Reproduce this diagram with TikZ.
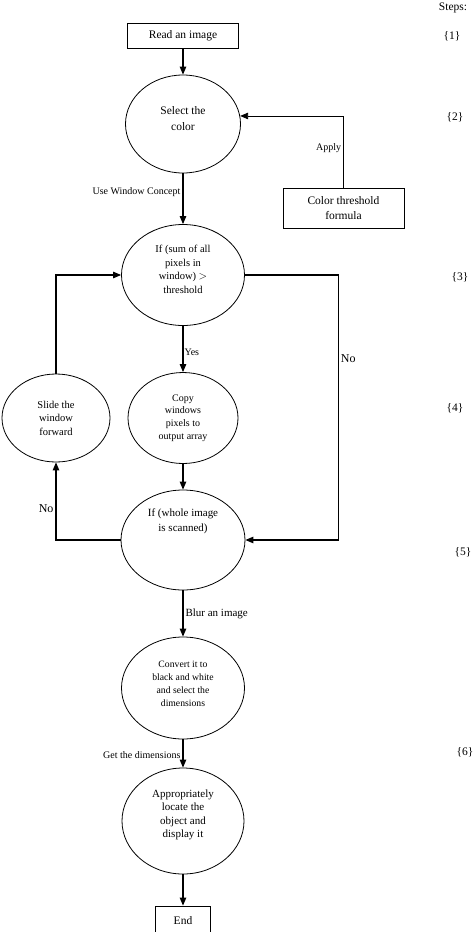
\documentclass[tikz,border=0pt]{standalone}
\usepackage{fontspec}
\setmainfont{Liberation Serif}
\usetikzlibrary{shapes.geometric,arrows.meta}

\begin{document}
\begin{tikzpicture}[x=1pt,y=-1pt]
\tikzstyle{oval}=[ellipse,draw,line width=0.8pt,inner sep=0pt,align=center,font=\fontsize{10.5}{13.5}\selectfont]
\tikzstyle{box}=[rectangle,draw,line width=0.8pt,inner sep=0pt,align=center,font=\fontsize{11.5}{15}\selectfont]
\tikzstyle{arr}=[-{Triangle[length=8pt,width=6.5pt]},line width=1.1pt]
\tikzstyle{lbl}=[font=\fontsize{10}{12}\selectfont,inner sep=2pt]
\tikzstyle{steplbl}=[font=\fontsize{11.5}{14}\selectfont,inner sep=0pt]
\path[fill=white] (0,0) rectangle (474,932);
\useasboundingbox (0,0) rectangle (474,932);

% boxes and ovals
\node[box,minimum width=111pt,minimum height=25pt] (read) at (183,35.5) {Read an image};
\node[oval,minimum width=115pt,minimum height=98pt,font=\fontsize{11.5}{16}\selectfont,text depth=10pt] (sel) at (183,124) {Select the\\color};
\node[box,minimum width=121pt,minimum height=40pt] (thr) at (343.5,208) {Color threshold\\formula};
\node[oval,minimum width=123pt,minimum height=101pt,text depth=11pt] (sum) at (183,275) {If (sum of all\\pixels in\\window) $>$\\threshold};
\node[oval,minimum width=108pt,minimum height=88pt] (slide) at (56,418) {Slide the\\window\\forward};
\node[oval,minimum width=110pt,minimum height=91pt,font=\fontsize{10}{12.8}\selectfont] (copy) at (183,418) {Copy\\windows\\pixels to\\output array};
\node[oval,minimum width=124pt,minimum height=100pt,font=\fontsize{11}{15}\selectfont,text depth=39pt] (whole) at (183,540) {If (whole image\\is scanned)};
\node[oval,minimum width=123pt,minimum height=102pt,font=\fontsize{9.7}{13}\selectfont,text depth=8pt] (conv) at (183,688) {Convert it to\\black and white\\and select the\\dimensions};
\node[oval,minimum width=122pt,minimum height=106pt,font=\fontsize{11}{13.5}\selectfont,text depth=15pt] (loc) at (183,821) {Appropriately\\locate the\\object and\\display it};
\node[box,minimum width=55pt,minimum height=30pt] (end) at (183,921) {End};

% steps column
\node[steplbl] (steps) at (453,8) {Steps:};
\foreach \name/\point in {
	1/{452,36},
	2/{455,117},
	3/{460,277},
	4/{455,408},
	5/{463,552},
	6/{465,752}}
	\node[steplbl] (st\name) at (\point) {\{\name\}};

% connectors
\draw[arr] (read) -- (sel);
\draw[arr,line width=0.8pt] (thr.north) |- (sel.8) node[lbl,pos=0.275,left] {Apply};
\draw[arr] (sel) -- (sum) node[lbl,pos=0.37,left] {Use Window Concept};
\draw[arr] (sum) -- (copy) node[lbl,pos=0.57,right,inner sep=1pt] {Yes};
\draw[arr] (copy) -- (whole);
\draw[arr] (sum.east) -- ++(93.5,0) |- (whole.east) node[lbl,pos=0.157,right,font=\fontsize{12}{14}\selectfont] {No};
\draw[arr] (whole.west) -| (slide.south) node[lbl,pos=0.705,left,font=\fontsize{12}{14}\selectfont] {No};
\draw[arr] (slide.north) |- (sum.west);
\draw[arr] (whole) -- (conv) node[lbl,midway,right,font=\fontsize{11}{13}\selectfont] {Blur an image};
\draw[arr] (conv) -- (loc) node[lbl,pos=0.54,left] {Get the dimensions};
\draw[arr] (loc) -- (end);
\end{tikzpicture}
\end{document}
